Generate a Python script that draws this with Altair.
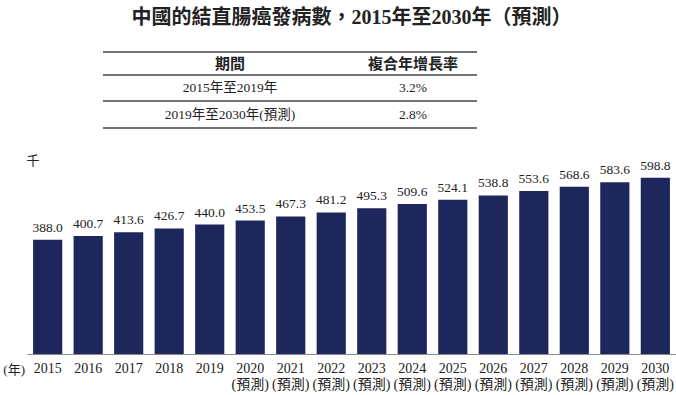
import altair as alt
import pandas as pd

years = [str(y) for y in range(2015, 2031)]
values = [388.0, 400.7, 413.6, 426.7, 440.0, 453.5, 467.3, 481.2, 495.3,
          509.6, 524.1, 538.8, 553.6, 568.6, 583.6, 598.8]
table_header = ["期間", "複合年增長率"]
periods = ["2015年至2019年", "2019年至2030年(預測)"]
cagr = ["3.2%", "2.8%"]
title_text = "中國的結直腸癌發病數，2015年至2030年（預測）"

SERIF = "Liberation Serif, Noto Sans CJK TC"
SANS = "Noto Sans CJK TC"
BAR = "#1d275c"
TXT = "#222222"

df = pd.DataFrame({"year": years, "value": values})

x = alt.X("year:N", sort=years,
          scale=alt.Scale(paddingInner=0.28, paddingOuter=0.15),
          axis=alt.Axis(title=None, labelAngle=0, ticks=False, domainColor="#8a8a8a",
                        domainWidth=1.2, labelFont=SERIF, labelFontSize=14,
                        labelColor=TXT, labelPadding=7, labelLineHeight=16,
                        labelBound=False, labelOverlap=False,
                        labelExpr="toNumber(datum.value) >= 2020 ? [datum.value, '(預測)'] : datum.value"))
y = alt.Y("value:Q", scale=alt.Scale(domain=[0, 700], nice=False), axis=None)

bars = alt.Chart(df).mark_bar(color=BAR).encode(x=x, y=y)
labels = alt.Chart(df).mark_text(font=SERIF, fontSize=13.5, color=TXT, baseline="bottom", dy=-5).encode(
    x=alt.X("year:N", sort=years), y="value:Q", text=alt.Text("value:Q", format=".1f"))

one = alt.Data(values=[{}])

def rule(yv):
    return alt.Chart(one).mark_rule(color="#444444", strokeWidth=1.4).encode(
        x=alt.value(76), x2=alt.value(450), y=alt.value(yv))

def txt(s, xv, yv, font, size, weight="normal", align="center"):
    return alt.Chart(pd.DataFrame({"t": [s]})).mark_text(
        font=font, fontSize=size, fontWeight=weight, color=TXT, align=align, baseline="middle"
    ).encode(x=alt.value(xv), y=alt.value(yv), text="t:N")

layers = [bars, labels,
          rule(-96), rule(-73), rule(-47), rule(-20),
          txt(table_header[0], 203, -84, SANS, 15, "bold"),
          txt(table_header[1], 386, -84, SANS, 15, "bold"),
          txt(periods[0], 203, -60, SERIF, 13.5),
          txt(cagr[0], 386, -60, SERIF, 13.5),
          txt(periods[1], 203, -33, SERIF, 13.5),
          txt(cagr[1], 386, -33, SERIF, 13.5),
          txt("千", 6, 13, SANS, 13, align="center"),
          txt("(年)", -2, 222, SERIF, 13, align="right")]

chart = alt.layer(*layers).properties(
    width=649, height=206,
    padding={"left": 27, "top": 148, "right": 0, "bottom": 41},
    autosize=alt.AutoSizeParams(type="none"),
    title=alt.TitleParams(title_text, font=SERIF, fontSize=20, fontWeight="bold",
                          color=TXT, anchor="middle", offset=23),
).configure_view(stroke=None)

chart.save("out.html", embed_options={"renderer": "svg", "actions": False})
